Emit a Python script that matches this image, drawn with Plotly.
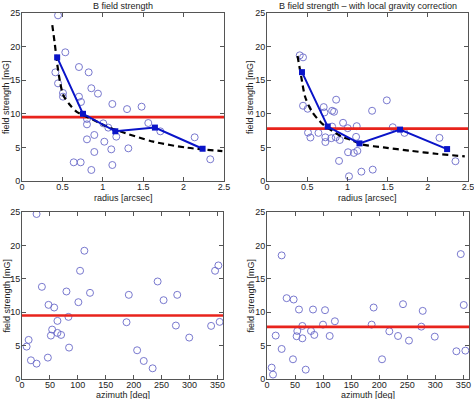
import plotly.graph_objects as go

# ---------------- data ----------------
# top-left: B vs radius
R_TL = [0.446, 0.536, 0.705, 0.825, 0.413, 0.446, 0.858, 0.94, 0.507, 0.507, 0.705, 0.73,
        1.118, 1.30, 1.48, 0.804, 0.804, 1.006, 1.068, 1.563, 1.712, 1.167, 0.895, 0.804,
        1.019, 0.895, 1.105, 1.316, 0.64, 0.726, 1.118, 0.858, 2.137, 2.33]
B_TL = [24.65, 19.15, 16.96, 16.17, 16.17, 14.53, 13.8, 13.0, 13.1, 12.55, 12.55, 11.76,
        11.46, 10.7, 11.06, 9.23, 8.43, 8.58, 7.94, 8.63, 7.39, 6.6, 6.85, 6.2,
        5.85, 4.32, 4.71, 4.86, 2.78, 2.78, 2.38, 1.64, 6.5, 3.23]
BIN_R_TL = [0.435, 0.755, 1.155, 1.645, 2.235]
BIN_B_TL = [18.4, 10.0, 7.4, 7.95, 4.8]
FIT_R_TL = [0.375, 0.408, 0.437, 0.47, 0.51, 0.594, 0.677, 0.76, 0.88, 1.05, 1.21, 1.625, 2.04, 2.48]
FIT_B_TL = [23.2, 20.2, 17.3, 14.8, 12.8, 11.3, 10.3, 9.8, 9.1, 8.1, 7.4, 5.85, 4.96, 4.45]
MEAN_TL = 9.5

# top-right: B (gravity corrected) vs radius
R_TR = [0.407, 0.448, 0.448, 0.506, 0.705, 0.714, 0.81, 0.834, 0.86, 0.946, 1.307, 1.49,
        0.81, 1.004, 1.116, 1.564, 1.71, 0.51, 0.64, 0.54, 0.726, 0.726, 0.80, 0.855,
        0.905, 1.108, 1.008, 1.08, 1.124, 0.896, 1.174, 1.315, 1.02, 2.145, 2.344]
B_TR = [18.7, 18.4, 11.2, 10.75, 11.0, 10.2, 10.45, 10.3, 12.1, 8.66, 10.45, 12.0,
        8.1, 7.86, 8.16, 8.0, 7.16, 7.2, 7.16, 6.47, 6.5, 5.8, 6.37, 6.5,
        6.1, 6.57, 4.28, 4.18, 4.48, 2.99, 1.39, 1.69, 0.7, 6.42, 2.94]
BIN_R_TR = [0.435, 0.755, 1.15, 1.655, 2.24]
BIN_B_TR = [16.2, 8.1, 5.6, 7.65, 4.75]
FIT_R_TR = [0.38, 0.426, 0.475, 0.56, 0.68, 0.765, 0.93, 1.05, 1.172, 1.45, 1.786, 2.1, 2.46]
FIT_B_TR = [18.6, 15.5, 12.5, 10.3, 8.6, 7.84, 6.6, 6.1, 5.46, 5.0, 4.5, 4.05, 3.67]
MEAN_TR = 7.8

# bottom-left: B vs azimuth
AZ_BL = [26.1, 111.7, 104, 351.7, 345.8, 35.6, 79.6, 121.8, 242.9, 191.3, 278, 253.6,
         101, 47.5, 57.6, 83.2, 63.5, 187.2, 354, 275.6, 338.7, 54, 51.7, 63.5,
         70, 299.5, 11.9, 8.3, 84.3, 206.2, 16, 218, 46.3, 26.1, 234]
B_BL = [24.7, 19.2, 16.2, 17.0, 16.2, 13.8, 13.1, 12.9, 14.6, 12.6, 12.6, 11.8,
        11.5, 11.1, 10.7, 9.3, 8.7, 8.5, 8.55, 8.0, 7.95, 7.4, 6.5, 6.9,
        6.6, 6.2, 5.85, 4.85, 4.7, 4.3, 2.8, 2.7, 3.2, 2.3, 1.6]

# bottom-right: B (gravity corrected) vs azimuth
AZ_BR = [26.1, 35, 47.5, 57, 82, 103.4, 121, 99.8, 63, 78.4, 54, 52.8, 84.3, 63, 111.7,
         15.5, 26.1, 46.3, 69, 8.3, 10.7,
         190, 186.5, 242.4, 277.5, 275, 218, 233.5, 253, 299, 205, 345.3, 350.6, 337.5, 353.5]
B_BR = [18.5, 12.1, 11.9, 10.4, 10.4, 10.3, 8.64, 8.14, 7.94, 7.19, 7.19, 6.4, 6.6, 6.09, 6.44,
        6.5, 4.5, 2.95, 1.4, 1.7, 0.66,
        10.7, 8.14, 11.2, 10.2, 7.84, 7.14, 6.44, 5.75, 6.34, 2.95, 18.7, 11.08, 4.15, 4.25]

RADIUS_TICKS = [0, 0.5, 1, 1.5, 2, 2.5]
RADIUS_TICKTEXT = ["0", "0.5", "1", "1.5", "2", "2.5"]
AZ_TICKS = [0, 50, 100, 150, 200, 250, 300, 350]
B_TICKS = [0, 5, 10, 15, 20, 25]
RADIUS_RANGE = [0, 2.5]
AZ_RANGE = [0, 360]
B_RANGE = [0, 25]

TITLES = ["B field strength", "B field strength \u2013 with local gravity correction"]
XLABELS = ["radius [arcsec]", "radius [arcsec]", "azimuth [deg]", "azimuth [deg]"]
YLABEL = "field strength [mG]"

# ---------------- styles ----------------
W, H = 474, 399
FONT = "Liberation Sans, Arial, Helvetica, sans-serif"
FS = 9
TXT = "#222222"
CIRC = "#6a6ac8"
BLUE = "#0a14c8"
RED = "#e8231c"

# panel boxes in pixels: (left, right, top, bottom)
BOXES = [(22, 224, 13, 181), (267, 468, 13, 181), (22, 223, 212, 379), (267, 469, 212, 379)]
XLABEL_Y = [197.5, 197.5, 394.5, 394.5]
YLABEL_X = [6, 250, 6, 250]

fig = go.Figure()

def circles(x, y, i):
    fig.add_trace(go.Scatter(x=x, y=y, mode="markers", xaxis=f"x{i}", yaxis=f"y{i}",
                             marker=dict(symbol="circle-open", size=7, color=CIRC,
                                         line=dict(width=0.9, color=CIRC)),
                             showlegend=False, hoverinfo="x+y"))

def hline(xr, level, i):
    fig.add_trace(go.Scatter(x=xr, y=[level, level], mode="lines", xaxis=f"x{i}", yaxis=f"y{i}",
                             line=dict(color=RED, width=2.6), showlegend=False, hoverinfo="skip"))

def fit(x, y, i):
    fig.add_trace(go.Scatter(x=x, y=y, mode="lines", xaxis=f"x{i}", yaxis=f"y{i}",
                             line=dict(color="black", width=2.2, dash="6px,4px", shape="spline",
                                       smoothing=0.8),
                             showlegend=False, hoverinfo="skip"))

def binned(x, y, i):
    fig.add_trace(go.Scatter(x=x, y=y, mode="lines+markers", xaxis=f"x{i}", yaxis=f"y{i}",
                             line=dict(color=BLUE, width=2),
                             marker=dict(symbol="square", size=6, color=BLUE),
                             showlegend=False))

circles(R_TL, B_TL, 1)
hline(RADIUS_RANGE, MEAN_TL, 1)
fit(FIT_R_TL, FIT_B_TL, 1)
binned(BIN_R_TL, BIN_B_TL, 1)

circles(R_TR, B_TR, 2)
hline(RADIUS_RANGE, MEAN_TR, 2)
fit(FIT_R_TR, FIT_B_TR, 2)
binned(BIN_R_TR, BIN_B_TR, 2)

circles(AZ_BL, B_BL, 3)
hline(AZ_RANGE, MEAN_TL, 3)

circles(AZ_BR, B_BR, 4)
hline(AZ_RANGE, MEAN_TR, 4)

axis_common = dict(showline=True, linecolor="#555555", linewidth=1, mirror="ticks",
                   ticks="inside", ticklen=4, tickcolor="#555555", tickwidth=1,
                   showgrid=False, zeroline=False, automargin=False,
                   ticklabeloverflow="allow",
                   tickfont=dict(family=FONT, size=FS, color=TXT))

layout = dict(width=W, height=H, margin=dict(l=0, r=0, t=0, b=0),
              paper_bgcolor="white", plot_bgcolor="white", showlegend=False)

annotations = []
for k, (l, r, t, b) in enumerate(BOXES, start=1):
    radial = k <= 2
    xa = dict(axis_common, domain=[l / W, r / W], anchor=f"y{k}",
              range=RADIUS_RANGE if radial else AZ_RANGE,
              tickvals=RADIUS_TICKS if radial else AZ_TICKS, ticklabelstandoff=-3)
    if radial:
        xa["ticktext"] = RADIUS_TICKTEXT
    ya = dict(axis_common, domain=[1 - b / H, 1 - t / H], anchor=f"x{k}",
              range=B_RANGE, tickvals=B_TICKS, ticklabelstandoff=-1)
    layout["xaxis" if k == 1 else f"xaxis{k}"] = xa
    layout["yaxis" if k == 1 else f"yaxis{k}"] = ya
    annotations.append(dict(text=XLABELS[k - 1], xref="paper", yref="paper",
                            x=(l + r) / 2 / W, y=1 - XLABEL_Y[k - 1] / H,
                            xanchor="center", yanchor="middle", showarrow=False,
                            font=dict(family=FONT, size=FS, color=TXT)))
    annotations.append(dict(text=YLABEL, xref="paper", yref="paper", textangle=-90,
                            x=YLABEL_X[k - 1] / W, y=1 - (t + b) / 2 / H,
                            xanchor="center", yanchor="middle", showarrow=False,
                            font=dict(family=FONT, size=FS, color=TXT)))
    if radial:
        annotations.append(dict(text=TITLES[k - 1], xref="paper", yref="paper",
                                x=(l + r) / 2 / W, y=1 - t / H,
                                xanchor="center", yanchor="bottom", showarrow=False,
                                font=dict(family=FONT, size=FS, color=TXT)))

layout["annotations"] = annotations
fig.update_layout(**layout)
fig.write_html("out.html", config={"displayModeBar": False},
               post_script="document.body.style.margin='0';document.body.style.overflow='hidden';")
